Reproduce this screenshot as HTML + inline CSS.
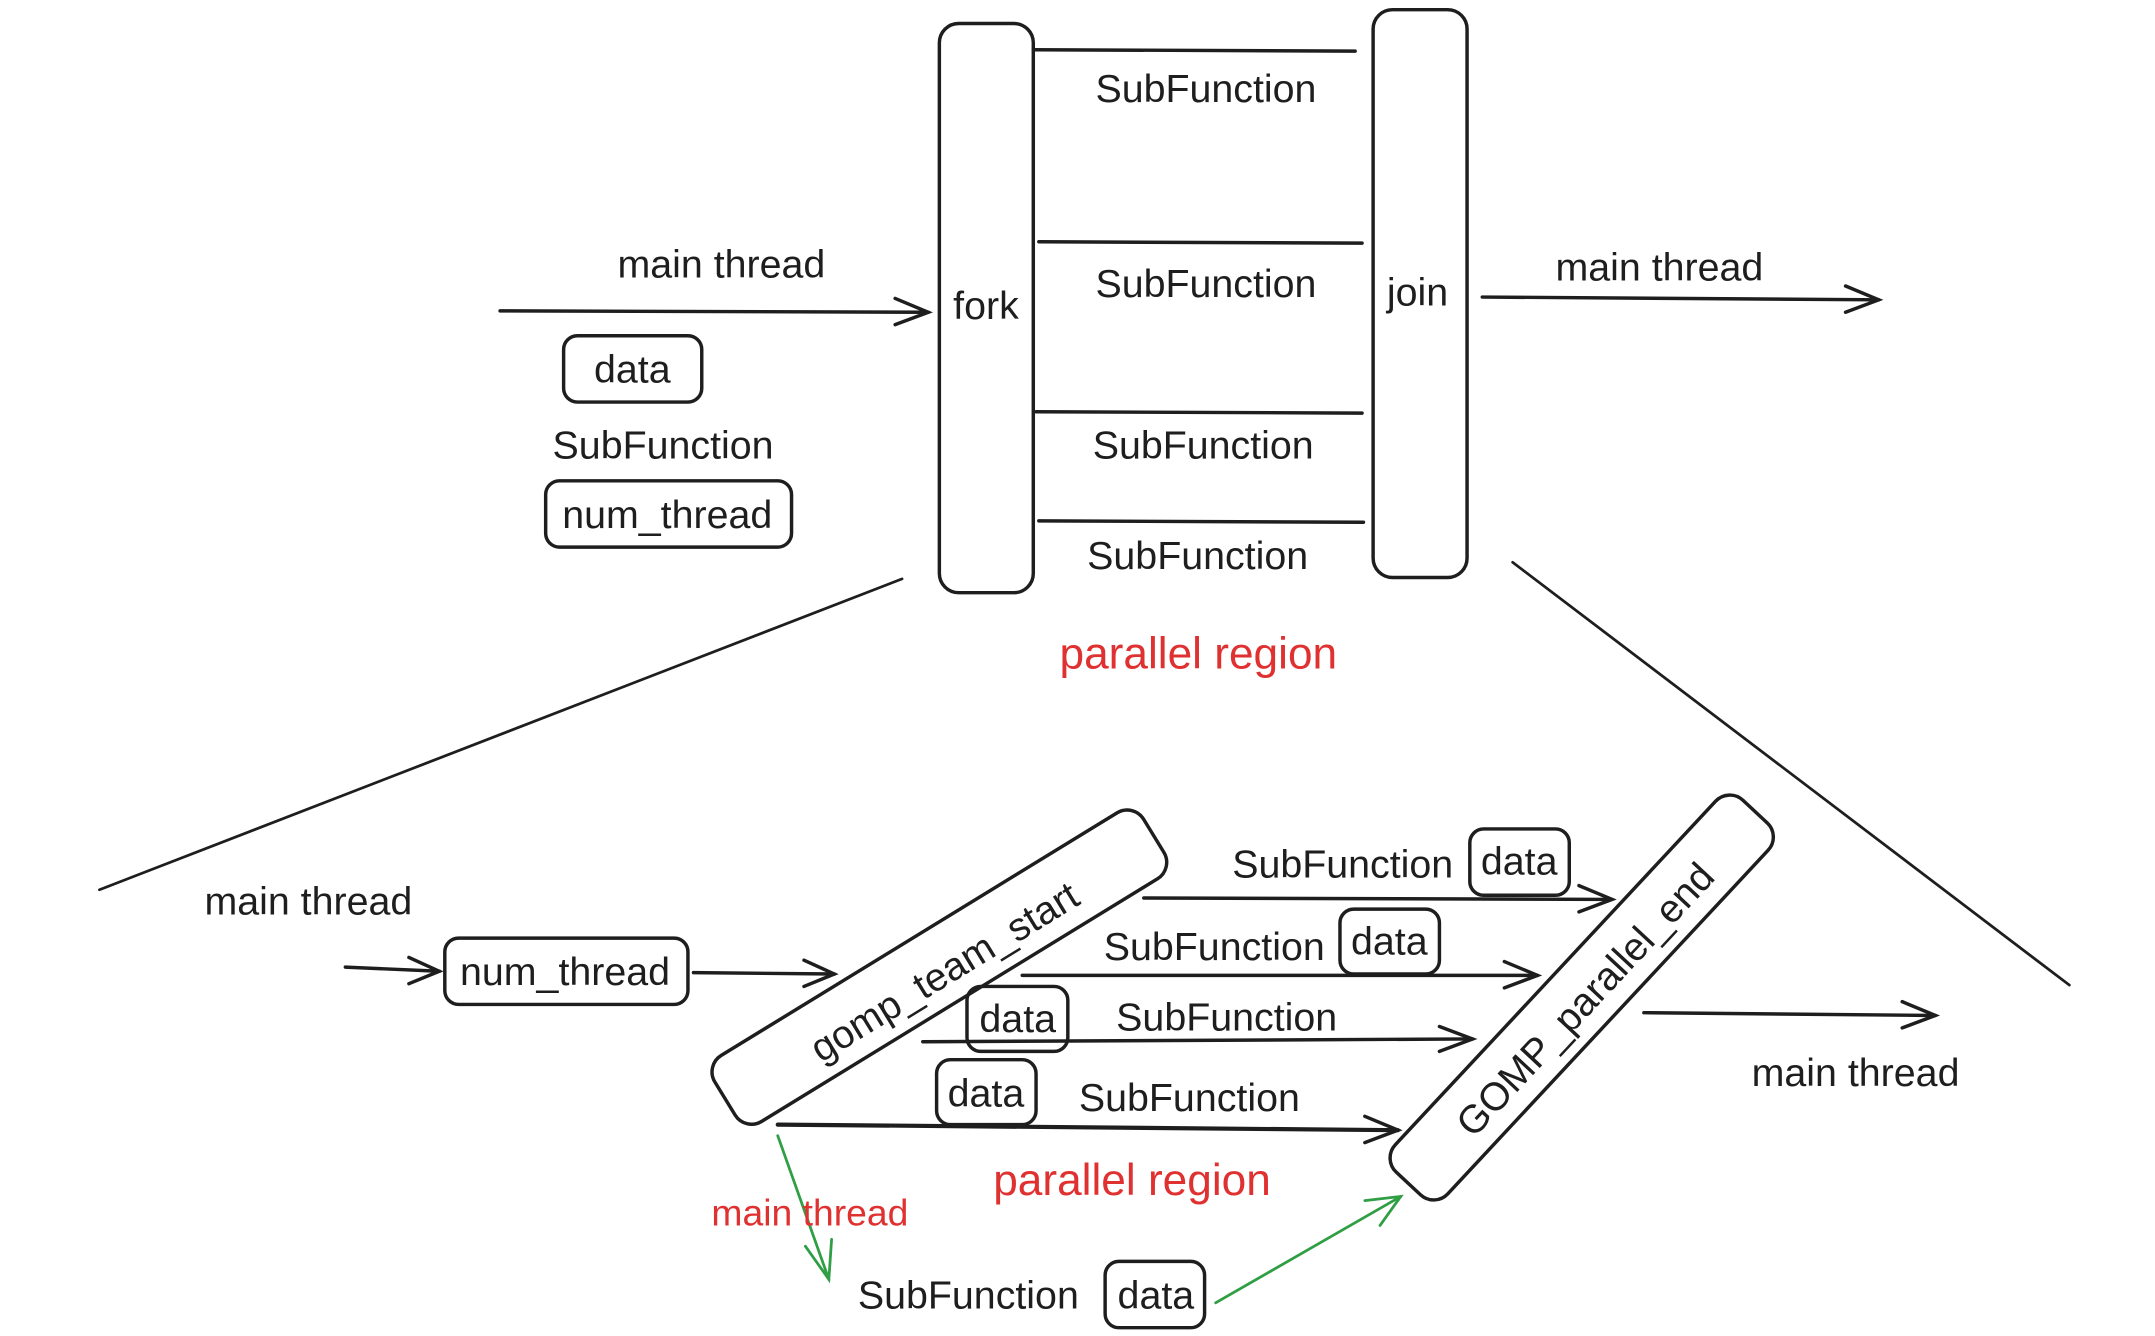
<!DOCTYPE html>
<html><head><style>html,body{margin:0;padding:0;background:#fff}svg{display:block}</style></head><body>
<svg width="2155" height="1336" viewBox="0 0 1560 967" preserveAspectRatio="none" xmlns="http://www.w3.org/2000/svg" font-family="Liberation Sans, sans-serif" font-size="28.5" fill="#1e1e1e">
<g stroke="#1e1e1e" stroke-width="2.5" fill="none" stroke-linecap="round">
<rect x="680" y="17" width="68" height="412" rx="14"/>
<rect x="994" y="7" width="68" height="411" rx="14"/>
<line x1="748" y1="36" x2="981" y2="37"/>
<line x1="752" y1="175" x2="986" y2="176"/>
<line x1="750" y1="298" x2="986" y2="299"/>
<line x1="752" y1="377" x2="987" y2="378"/>
<line x1="362" y1="225" x2="672" y2="226"/><polyline points="648,216 672,226 648,235"/>
<line x1="1073" y1="215" x2="1360" y2="217"/><polyline points="1336,207 1360,217 1336,226"/>
<rect x="408" y="243" width="100" height="48" rx="10"/>
<rect x="395" y="348" width="178" height="48" rx="10"/>
<line x1="653" y1="419" x2="72" y2="644" stroke-width="2"/>
<line x1="1095" y1="407" x2="1498" y2="713" stroke-width="2"/>
<line x1="250" y1="700" x2="318" y2="703"/><polyline points="296,693 318,703 296,712"/>
<rect x="322" y="679" width="176" height="48" rx="10"/>
<line x1="502" y1="704" x2="604" y2="705"/><polyline points="582,695 604,705 582,714"/>
<rect x="-182" y="-28" width="364" height="56" rx="14" transform="translate(680,700) rotate(-31.5)"/>
<rect x="-184" y="-26" width="368" height="52" rx="14" transform="translate(1145,722) rotate(-47)"/>
<line x1="828" y1="650" x2="1167" y2="651"/><polyline points="1143,641 1167,651 1143,660"/>
<line x1="740" y1="706" x2="1113" y2="706"/><polyline points="1089,696 1113,706 1089,715"/>
<line x1="668" y1="754" x2="1066" y2="752"/><polyline points="1042,743 1066,752 1042,761"/>
<line x1="563" y1="814" x2="1012" y2="818" stroke-width="3"/><polyline points="988,808 1012,818 988,827"/>
<rect x="1064" y="600" width="72" height="48" rx="10"/>
<rect x="970" y="658" width="72" height="47" rx="10"/>
<rect x="700" y="714" width="73" height="47" rx="10"/>
<rect x="678" y="767" width="72" height="47" rx="10"/>
<line x1="1190" y1="733" x2="1401" y2="735"/><polyline points="1377,725 1401,735 1377,744"/>
<rect x="800" y="913" width="72" height="48" rx="10"/>
<g stroke="#2f9e44" stroke-width="2"><line x1="563" y1="822" x2="600" y2="926"/><polyline points="583,902 600,926 602,897"/>
<line x1="880" y1="943" x2="1014" y2="866"/><polyline points="988,869 1014,866 999,887"/></g>
</g>
<text x="793" y="74">SubFunction</text>
<text x="793" y="215">SubFunction</text>
<text x="791" y="332">SubFunction</text>
<text x="787" y="412">SubFunction</text>
<text x="690" y="231">fork</text>
<text x="1004" y="221">join</text>
<text x="447" y="201">main thread</text>
<text x="1126" y="203">main thread</text>
<text x="430" y="277">data</text>
<text x="400" y="332">SubFunction</text>
<text x="407" y="382">num_thread</text>
<text x="767" y="484" fill="#e03131" font-size="32">parallel region</text>
<text x="148" y="662">main thread</text>
<text x="333" y="713">num_thread</text>
<text transform="translate(684,704) rotate(-31.5)" text-anchor="middle" dy="9">gomp_team_start</text>
<text transform="translate(1148,724) rotate(-47)" text-anchor="middle" dy="9">GOMP_parallel_end</text>
<text x="892" y="635">SubFunction</text><text x="1072" y="633">data</text>
<text x="799" y="695">SubFunction</text><text x="978" y="691">data</text>
<text x="808" y="746">SubFunction</text><text x="709" y="747">data</text>
<text x="781" y="804">SubFunction</text><text x="686" y="801">data</text>
<text x="1268" y="786">main thread</text>
<text x="719" y="865" fill="#e03131" font-size="32">parallel region</text>
<text x="515" y="887" fill="#e03131" font-size="27">main thread</text>
<text x="621" y="947">SubFunction</text><text x="809" y="947">data</text>
</svg>
</body></html>
